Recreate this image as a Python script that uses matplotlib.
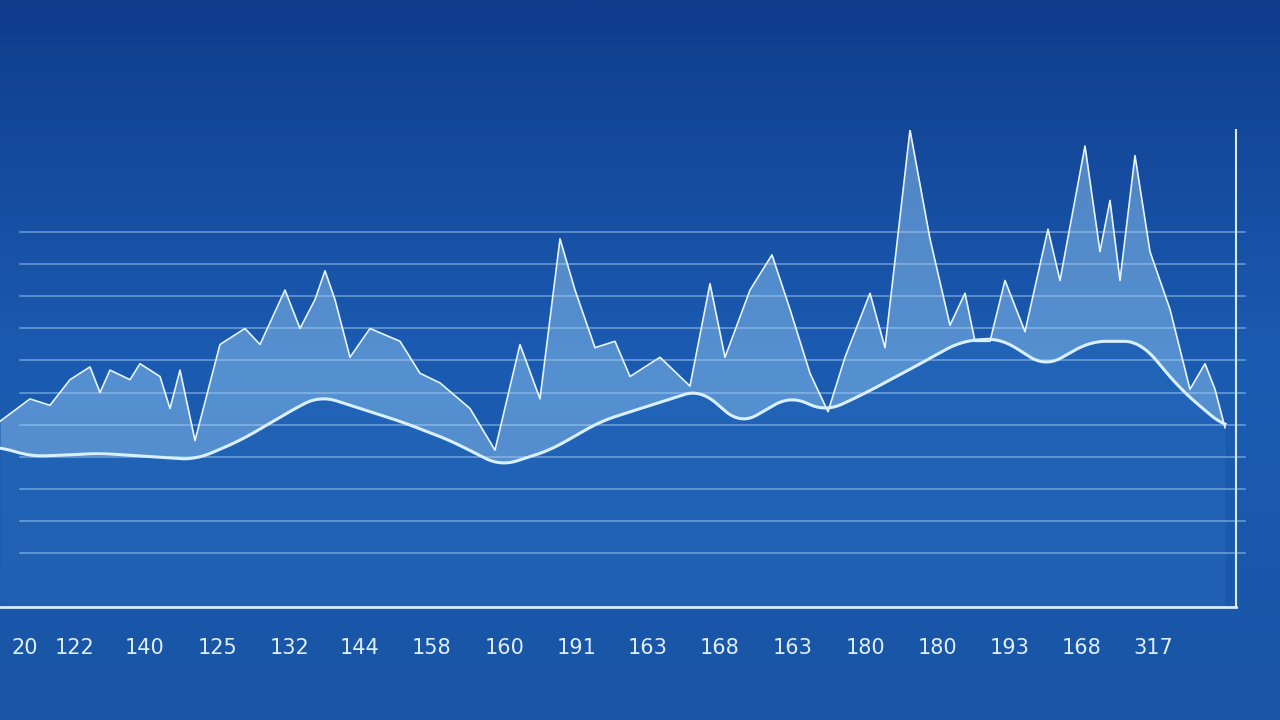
import numpy as np
import matplotlib
matplotlib.use("Agg")
import matplotlib.pyplot as plt

tick_pos = [25, 75, 145, 218, 290, 360, 432, 505, 577, 648, 720, 793, 866, 938, 1010, 1082, 1153]
tick_labels = ["20", "122", "140", "125", "132", "144", "158", "160", "191", "163", "168", "163", "180", "180", "193", "168", "317"]

upper_x = [0,30,50,70,90,100,110,130,140,160,170,180,195,220,245,260,285,300,315,325,335,350,370,400,420,440,470,495,520,540,560,575,595,615,630,660,690,710,725,750,772,790,810,828,845,870,885,910,930,950,965,975,990,1005,1025,1048,1060,1085,1100,1110,1120,1135,1150,1170,1190,1205,1215,1225]
upper_y = [5.8,6.5,6.3,7.1,7.5,6.7,7.4,7.1,7.6,7.2,6.2,7.4,5.2,8.2,8.7,8.2,9.9,8.7,9.6,10.5,9.6,7.8,8.7,8.3,7.3,7.0,6.2,4.9,8.2,6.5,11.5,9.9,8.1,8.3,7.2,7.8,6.9,10.1,7.8,9.9,11.0,9.3,7.3,6.1,7.8,9.8,8.1,14.9,11.5,8.8,9.8,8.3,8.3,10.2,8.6,11.8,10.2,14.4,11.1,12.7,10.2,14.1,11.1,9.3,6.8,7.6,6.8,5.6]
lower_x = [0,30,100,195,240,300,320,350,400,450,500,550,600,650,700,740,790,825,860,920,960,1000,1045,1090,1140,1180,1225]
lower_y = [5.0,4.7,4.8,4.6,5.2,6.3,6.6,6.3,5.8,5.2,4.4,4.9,5.8,6.3,6.8,5.7,6.6,6.1,6.6,7.6,8.3,8.4,7.5,8.3,8.3,6.8,5.6]

fig = plt.figure(figsize=(12.8, 7.2), dpi=100)
bg = fig.add_axes([0, 0, 1, 1])
g = np.linspace(0, 1, 256)[:, None]
top = np.array([0x10, 0x3c, 0x8c]) / 255
mid = np.array([0x1b, 0x5c, 0xb2]) / 255
bot = np.array([0x1a, 0x55, 0xa6]) / 255
col = np.where(g[..., None] < 0.5, top + (mid - top) * (g[..., None] / 0.5), mid + (bot - mid) * ((g[..., None] - 0.5) / 0.5))
bg.imshow(col, aspect='auto', extent=[0, 1, 0, 1], origin='upper')
bg.axis('off')

ax = fig.add_axes([0, (720 - 607) / 720, 1236 / 1280, (607 - 130) / 720])
ax.set_xlim(0, 1236)
ax.set_ylim(0, 14.9)
ax.patch.set_alpha(0)
for s in ['top', 'left']:
    ax.spines[s].set_visible(False)
ax.spines['bottom'].set_color('#d8ecff'); ax.spines['bottom'].set_linewidth(2)
ax.spines['right'].set_color('#d8ecff'); ax.spines['right'].set_linewidth(1.5)

ux = np.array(upper_x); uy = np.array(upper_y)
lx = np.array(lower_x); ly = np.array(lower_y)
xs = np.linspace(0, 1225, 1500)
ui = np.interp(xs, ux, uy)
li = np.interp(xs, lx, ly)
k = np.ones(40) / 40
lis = np.convolve(np.pad(li, 20, mode='edge'), k, mode='same')[20:-20]
ax.fill_between(xs, 0, lis, color='#2f78c8', alpha=0.3, lw=0)
ax.fill_between(xs, lis, np.maximum(ui, lis), color='#8fc3ee', alpha=0.5, lw=0)

for v in np.arange(1.7, 11.8, 1.0):
    ax.plot([20, 1245], [v, v], color='#a9cdf0', lw=1.1, alpha=0.6, clip_on=False)

ax.plot(ux, uy, color='#e8f5ff', lw=1.2)
ax.plot(xs, lis, color='#d8f0ff', lw=2.2)

ax.set_xticks(tick_pos)
ax.set_xticklabels(tick_labels, color='#e0efff', fontsize=15)
ax.tick_params(axis='x', length=0, pad=22)
ax.set_yticks([])
fig.savefig('out.png', dpi=100)
